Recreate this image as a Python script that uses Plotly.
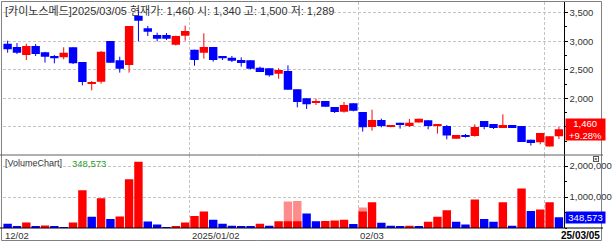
import plotly.graph_objects as go

# ---------------- data ----------------
stock_name = "카이노스메드"
dates = [
    "2024-12-02", "2024-12-03", "2024-12-04", "2024-12-05", "2024-12-06", "2024-12-09", "2024-12-10",
    "2024-12-11", "2024-12-12", "2024-12-13", "2024-12-16", "2024-12-17", "2024-12-18", "2024-12-19",
    "2024-12-20", "2024-12-23", "2024-12-24", "2024-12-26", "2024-12-27", "2024-12-30",
    "2025-01-02", "2025-01-03", "2025-01-06", "2025-01-07", "2025-01-08", "2025-01-09", "2025-01-10",
    "2025-01-13", "2025-01-14", "2025-01-15", "2025-01-16", "2025-01-17", "2025-01-20", "2025-01-21",
    "2025-01-22", "2025-01-23", "2025-01-24", "2025-01-31",
    "2025-02-03", "2025-02-04", "2025-02-05", "2025-02-06", "2025-02-07", "2025-02-10", "2025-02-11",
    "2025-02-12", "2025-02-13", "2025-02-14", "2025-02-17", "2025-02-18", "2025-02-19", "2025-02-20",
    "2025-02-21", "2025-02-24", "2025-02-25", "2025-02-26", "2025-02-27", "2025-02-28",
    "2025-03-04", "2025-03-05",
]
opens = [2958, 2900, 2760, 2917, 2806, 2742, 2719, 2894, 2637, 2258,
         2293, 3004, 2666, 2585, 3448, 3226, 3109, 3109, 2940, 3098,
         2853, 2800, 2900, 2742, 2713, 2672, 2666, 2538, 2527, 2433,
         2480, 2159, 2002, 1926, 1955, 1850, 1768, 1914, 1763, 1500,
         1623, 1500, 1574, 1518, 1580, 1617, 1518, 1518, 1296, 1360,
         1343, 1605, 1553, 1483, 1535, 1518, 1279, 1232, 1160, 1340]
highs = [3010, 2969, 2958, 2952, 2815, 2760, 2894, 2894, 2637, 2305,
         2829, 3004, 2730, 3267, 3547, 3267, 3150, 3144, 3100, 3273,
         2853, 3139, 2900, 2742, 2742, 2719, 2666, 2556, 2527, 2527,
         2579, 2159, 2002, 1996, 1955, 1850, 1938, 1914, 1763, 1803,
         1646, 1518, 1574, 1640, 1644, 1617, 1535, 1535, 1360, 1378,
         1547, 1605, 1553, 1722, 1535, 1518, 1279, 1395, 1337, 1500]
lows = [2800, 2777, 2672, 2742, 2626, 2614, 2684, 2602, 2229, 2142,
        2258, 2620, 2451, 2451, 2999, 3092, 2999, 3022, 2925, 3010,
        2573, 2695, 2643, 2672, 2637, 2556, 2509, 2462, 2381, 2346,
        2153, 1844, 1815, 1885, 1856, 1745, 1751, 1774, 1419, 1436,
        1494, 1494, 1471, 1500, 1580, 1459, 1384, 1283, 1296, 1314,
        1331, 1459, 1465, 1483, 1483, 1238, 1174, 1197, 1160, 1289]
closes = [2859, 2800, 2917, 2777, 2730, 2701, 2800, 2614, 2287, 2281,
          2818, 2626, 2521, 3267, 3360, 3168, 3045, 3045, 3092, 3179,
          2672, 2900, 2672, 2701, 2660, 2620, 2521, 2462, 2404, 2497,
          2153, 1938, 1897, 1938, 1856, 1763, 1885, 1786, 1494, 1623,
          1518, 1518, 1552, 1576, 1644, 1518, 1535, 1353, 1360, 1331,
          1500, 1500, 1483, 1535, 1483, 1238, 1220, 1395, 1336, 1460]
volumes = [140000, 40000, 180000, 40000, 80000, 40000, 30000, 180000, 1220000, 360000,
           960000, 290000, 370000, 1580000, 2140000, 210000, 110000, 30000, 40000, 180000,
           390000, 530000, 270000, 140000, 70000, 68000, 66000, 140000, 70000, 220000,
           860000, 870000, 470000, 220000, 230000, 240000, 270000, 130000, 660000, 830000,
           170000, 70000, 40000, 70000, 40000, 200000, 360000, 570000, 200000, 110000,
           920000, 290000, 200000, 830000, 70000, 1280000, 550000, 600000, 830000, 348573]
# darker (solid) lower part of the bars that are drawn partly light in the reference
volume_solid_part = {30: 220000, 31: 220000, 38: 530000}
price_ticks = [1500, 2000, 2500, 3000, 3500]
volume_ticks = [1000000, 2000000]
date_label_dates = ["2024-12-02", "2025-01-02", "2025-02-03"]
date_labels = ["12/02", "2025/01/02", "02/03"]
month_start_dates = ["2025-01-02", "2025-02-03", "2025-03-04"]

# ---------------- layout geometry (pixels) ----------------
W, H = 612, 242
PL, PR = 3, 572
PT, PB = 2, 155
VT, VB = 155, 228
FONT = "Liberation Sans, Arial, Noto Sans CJK KR"
RED, BLUE, PINK = "#ff0000", "#0000ff", "#ff8c8c"
GRID = "#c4c4c4"


def fx(p):
    return p / W


def fy(p):
    return 1 - p / H


n = len(dates)
xs = list(range(n))
cand_color = [RED if c >= o else BLUE for o, c in zip(opens, closes)]
vol_color = [BLUE] + [RED if volumes[i] > volumes[i - 1] else BLUE for i in range(1, n)]
vol_draw_color = [PINK if i in volume_solid_part else vol_color[i] for i in range(n)]

fig = go.Figure()

# wicks
for col in (RED, BLUE):
    wx, wy = [], []
    for i in range(n):
        if cand_color[i] == col:
            wx += [i, i, None]
            wy += [lows[i], highs[i], None]
    fig.add_trace(go.Scatter(x=wx, y=wy, mode="lines", line=dict(color=col, width=1),
                             xaxis="x", yaxis="y", hoverinfo="skip", showlegend=False))

# bodies
body_base = [min(o, c) for o, c in zip(opens, closes)]
body_h = [max(abs(c - o), 16) for o, c in zip(opens, closes)]
fig.add_trace(go.Bar(x=xs, y=body_h, base=body_base, width=0.9,
                     marker=dict(color=cand_color, line=dict(width=0)),
                     xaxis="x", yaxis="y", hoverinfo="skip", showlegend=False))

# volume
fig.add_trace(go.Bar(x=xs, y=volumes, width=0.9,
                     marker=dict(color=vol_draw_color, line=dict(width=0)),
                     xaxis="x2", yaxis="y2", hoverinfo="skip", showlegend=False))
solid_idx = sorted(volume_solid_part)
fig.add_trace(go.Bar(x=solid_idx, y=[volume_solid_part[i] for i in solid_idx], width=0.9,
                     marker=dict(color=[vol_color[i] for i in solid_idx], line=dict(width=0)),
                     xaxis="x2", yaxis="y2", hoverinfo="skip", showlegend=False))

grid_x = [dates.index(d) - 0.5 for d in month_start_dates]
xcommon = dict(range=[-0.5, n - 0.5], domain=[fx(PL), fx(PR)], tickvals=grid_x,
               showticklabels=False, ticks="", showgrid=True, gridcolor=GRID,
               griddash="3px,2px", gridwidth=1, zeroline=False, showline=False, fixedrange=True)

p_lo, p_hi = 1010, 3687
v_hi = 2360000
ycommon = dict(side="right", ticks="outside", ticklen=3, tickcolor="#000", showline=True,
               linecolor="#000", linewidth=1, showgrid=True, gridcolor=GRID, griddash="3px,2px",
               zeroline=False, tickfont=dict(family=FONT, size=9.5, color="#333"), fixedrange=True)

fig.update_layout(
    width=W, height=H, margin=dict(l=0, r=0, t=0, b=0),
    paper_bgcolor="white", plot_bgcolor="white", showlegend=False,
    font=dict(family=FONT, size=10, color="#333"),
    barmode="overlay",
    xaxis=dict(anchor="y", **xcommon),
    xaxis2=dict(anchor="y2", matches="x", **xcommon),
    yaxis=dict(anchor="x", domain=[fy(PB), fy(PT)], range=[p_lo, p_hi],
               tickvals=price_ticks,
               ticktext=["" if v == 1500 else f"{v:,}" for v in price_ticks],
               minor=dict(dtick=250, tick0=0, ticks="outside", ticklen=2, tickcolor="#000", showgrid=False),
               **ycommon),
    yaxis2=dict(anchor="x2", domain=[fy(VB), fy(VT)], range=[0, v_hi],
                tickvals=volume_ticks, ticktext=[f"{v:,}" for v in volume_ticks],
                minor=dict(dtick=500000, tick0=0, ticks="outside", ticklen=2, tickcolor="#000", showgrid=False),
                **ycommon),
)

shapes = [
    dict(type="rect", xref="paper", yref="paper", x0=fx(1.5), x1=fx(610.5), y0=fy(240.5), y1=fy(1.5),
         line=dict(color="#808080", width=1)),
    dict(type="line", xref="paper", yref="paper", x0=0, x1=1, y0=fy(155), y1=fy(155),
         line=dict(color="#606060", width=1)),
    dict(type="line", xref="paper", yref="paper", x0=0, x1=1, y0=fy(228), y1=fy(228),
         line=dict(color="#000", width=1)),
]
fig.update_layout(shapes=shapes)

last = n - 1
d = dates[last]
pct = (closes[last] / closes[last - 1] - 1) * 100
header = (f"[{stock_name}]{d.replace('-', '/')} 현재가: {closes[last]:,} 시: {opens[last]:,} "
          f"고: {highs[last]:,} 저: {lows[last]:,}")

ann = [
    dict(text=header, xref="paper", yref="paper", x=fx(3), y=fy(3), xanchor="left", yanchor="top",
         showarrow=False, font=dict(family=FONT, size=11, color="#333")),
    dict(text="[VolumeChart]", xref="paper", yref="paper", x=fx(3), y=fy(155.5), xanchor="left",
         yanchor="top", showarrow=False, font=dict(family=FONT, size=9, color="#333")),
    dict(text=f"{volumes[last]:,}", xref="paper", yref="paper", x=fx(71), y=fy(155.5), xanchor="left",
         yanchor="top", showarrow=False, font=dict(family=FONT, size=9.5, color="#2a9a2a")),
    dict(text=f"{closes[last]:,}<br>{pct:+.2f}%", xref="paper", yref="y", x=fx(573), y=closes[last],
         xanchor="left", yanchor="middle", showarrow=False, bgcolor=RED, width=39, height=21,
         borderpad=0, align="center", font=dict(family=FONT, size=9.5, color="white")),
    dict(text=f"{volumes[last]:,}", xref="paper", yref="y2", x=fx(573), y=volumes[last],
         xanchor="left", yanchor="middle", showarrow=False, bgcolor=BLUE, width=39, height=11,
         borderpad=0, align="center", font=dict(family=FONT, size=9.5, color="white")),
    dict(text=f"<b>{d[2:4]}/{d[5:7]}/{d[8:10]}</b>", xref="paper", yref="paper", x=fx(568),
         y=fy(241.5), xanchor="left", yanchor="bottom", borderpad=0, showarrow=False,
         font=dict(family=FONT, size=10, color="#000")),
    dict(text="×", xref="paper", yref="paper", x=fx(602), y=fy(155.5), xanchor="left", yanchor="top",
         showarrow=False, bgcolor="white", bordercolor="#555", borderwidth=1, borderpad=0,
         width=4, height=4, font=dict(family=FONT, size=6, color="#000")),
]
for lab, dd in zip(date_labels, date_label_dates):
    ann.append(dict(text=lab, xref="x", yref="paper", x=dates.index(dd) - 0.5, xshift=1,
                    y=fy(241.5), xanchor="left", yanchor="bottom", borderpad=0, showarrow=False,
                    font=dict(family=FONT, size=9.5, color="#333")))
fig.update_layout(annotations=ann)

fig.write_html("out.html")
